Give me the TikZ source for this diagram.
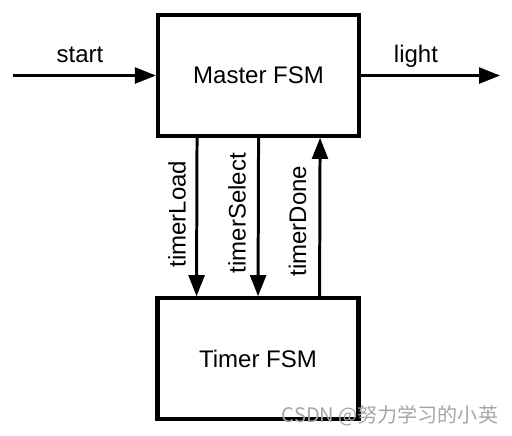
\documentclass[tikz,border=0pt]{standalone}
\usepackage{fontspec}
\setmainfont{Liberation Sans}
\newfontfamily\cjkfont{Noto Sans CJK SC}
\usetikzlibrary{arrows.meta,calc}

\begin{document}
\begin{tikzpicture}[scale=0.02]
\tikzstyle{every node}+=[inner sep=0pt, font=\fontsize{13.66}{16}\selectfont]
\tikzstyle{fsm}=[draw=black, line width=2.3pt, minimum width=114.4pt, minimum height=68.6pt]
\tikzstyle{sig}=[draw=black, line width=1.7pt, -{Triangle[length=12pt,width=9pt]}]
\useasboundingbox (0,0) rectangle (512,-435);
\node [fsm] (master) at (258.5,-75.5) {Master FSM};
\node [fsm] (timer) at (258,-358.5) {Timer FSM};
\coordinate (startend) at (13,-75.5);
\coordinate (lightend) at (500,-75.5);
\draw [sig] (startend) -- (master.west);
\node (startlbl) at (80,-55) {start};
\draw [sig] (master.east) -- (lightend);
\node (lightlbl) at (416,-56) {light};
\draw [sig] ($(master.south west)!.2!(master.south east)$) -- ($(timer.north west)!.2!(timer.north east)$);
\node [rotate=90] (loadlbl) at (177,-214) {timerLoad};
\draw [sig] ($(master.south west)!.5!(master.south east)$) -- ($(timer.north west)!.5!(timer.north east)$);
\node [rotate=90] (selectlbl) at (237,-213) {timerSelect};
\draw [sig] ($(timer.north west)!.8!(timer.north east)$) -- ($(master.south west)!.8!(master.south east)$);
\node [rotate=90] (donelbl) at (297.5,-221) {timerDone};
\node [text=black!35, font=\cjkfont\fontsize{11.4}{13}\selectfont] (mark) at (390,-416) {CSDN @努力学习的小英};
\end{tikzpicture}
\end{document}
